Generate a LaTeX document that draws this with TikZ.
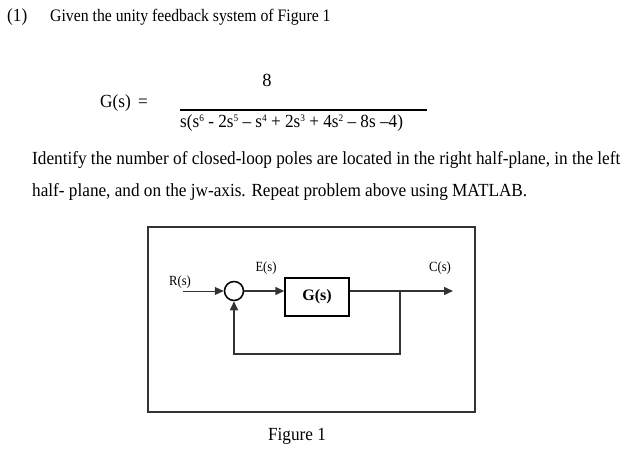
\documentclass[tikz,border=0pt]{standalone}
\usepackage{fontspec}
\setmainfont{Liberation Serif}
\usetikzlibrary{arrows.meta}
\newcommand{\myexp}[1]{\raisebox{0.7ex}{\fontsize{10}{10}\selectfont #1}}
\begin{document}
\begin{tikzpicture}[x=1pt,y=-1pt,
  txt/.style={inner sep=0pt,anchor=west,font=\fontsize{18.5}{20}\selectfont},
  lbl/.style={inner sep=0pt,font=\fontsize{14}{16}\selectfont\addfontfeature{FakeStretch=0.9}},
  ln/.style={line width=1.5pt,draw=black!80},
  arr/.style={ln,-{Triangle[length=9pt,width=8pt]}}]
\useasboundingbox (0,0) rectangle (621,449);
\node[txt] (n1) at (7,17) {\addfontfeature{FakeStretch=0.93}(1)};
\node[txt,font=\fontsize{17.5}{19}\selectfont] (t1) at (50,17) {\addfontfeature{FakeStretch=0.9}Given the unity feedback system of Figure 1};
\node[txt] (gs) at (100,103) {\addfontfeature{FakeStretch=0.93}G(s) \,=};
\node[txt,anchor=center] (num) at (267,80) {8};
\draw[line width=1.3pt] (180,110) -- (427,110);
\node[txt] (den) at (180,123) {\addfontfeature{FakeStretch=0.93}s(s\myexp{6} - 2s\myexp{5} -- s\myexp{4} + 2s\myexp{3} + 4s\myexp{2} -- 8s --4)};
\node[txt] (p1) at (32,160) {\addfontfeature{FakeStretch=0.93}Identify the number of closed-loop poles are located in the right half-plane, in the left};
\node[txt] (p2) at (32,192) {\addfontfeature{FakeStretch=0.93}half- plane, and on the jw-axis. Repeat problem above using MATLAB.};
\draw[line width=2pt,draw=black!80] (148,227) rectangle (475,412);
\node[lbl] (R) at (180,282) {R(s)};
\node[lbl] (E) at (266,268) {E(s)};
\node[lbl] (C) at (440,268) {C(s)};
\node[draw,circle,line width=1.5pt,minimum size=19pt,inner sep=0pt] (sum) at (234,291) {};
\node[draw,line width=1.5pt,minimum width=64pt,minimum height=38pt,font=\bfseries\fontsize{16}{18}\selectfont] (G) at (317,297) {G(s)};
\coordinate (in) at (183,291);
\coordinate (br) at (400,291);
\coordinate (out) at (453,291);
\coordinate (b1) at (400,354);
\coordinate (b2) at (234,354);
\draw[ln,line width=1pt,-{Triangle[length=9pt,width=8pt]}] (in) -- (sum.west);
\draw[arr] (sum.east) -- (sum.east -| G.west);
\draw[ln] (G.east |- br) -- (br);
\draw[arr] (br) -- (out);
\draw[arr] (br) -- (b1) -- (b2) -- (sum.south);
\node[txt,anchor=center] (fig) at (297,436) {\addfontfeature{FakeStretch=0.93}Figure 1};
\end{tikzpicture}
\end{document}
